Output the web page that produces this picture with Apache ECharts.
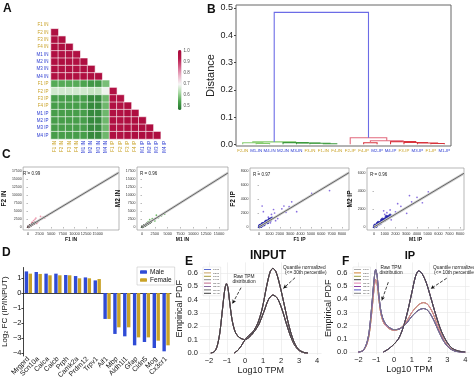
<!DOCTYPE html>
<html><head><meta charset="utf-8">
<script src="https://cdn.jsdelivr.net/npm/echarts@6/dist/echarts.min.js"></script>
<style>html,body{margin:0;padding:0;background:#fff}#c{width:474px;height:381px}</style>
</head><body><div id="c"></div>
<script>
// ---------- A: correlation heatmap ----------
const samples = ['F1 IN','F2 IN','F3 IN','F4 IN','M1 IN','M2 IN','M3 IN','M4 IN','F1 IP','F2 IP','F3 IP','F4 IP','M1 IP','M2 IP','M3 IP','M4 IP'];
const corrRows = [
  [],
  [0.98],
  [0.98,0.98],
  [0.98,0.98,0.98],
  [0.97,0.97,0.97,0.97],
  [0.97,0.98,0.97,0.97,0.98],
  [0.97,0.97,0.97,0.97,0.98,0.98],
  [0.97,0.97,0.97,0.97,0.97,0.98,0.98],
  [0.55,0.55,0.55,0.55,0.54,0.52,0.52,0.58],
  [0.66,0.66,0.66,0.66,0.66,0.65,0.65,0.69,0.96],
  [0.53,0.53,0.53,0.53,0.53,0.50,0.50,0.57,0.97,0.96],
  [0.53,0.53,0.53,0.53,0.53,0.50,0.50,0.57,0.97,0.96,0.98],
  [0.53,0.53,0.53,0.53,0.53,0.50,0.50,0.57,0.97,0.96,0.98,0.98],
  [0.53,0.53,0.53,0.53,0.53,0.50,0.50,0.57,0.97,0.96,0.98,0.98,0.98],
  [0.53,0.53,0.53,0.53,0.53,0.50,0.50,0.57,0.97,0.96,0.98,0.98,0.98,0.98],
  [0.53,0.53,0.53,0.53,0.53,0.50,0.50,0.57,0.97,0.96,0.98,0.98,0.98,0.98,0.98]
];
const colorbarTicks = [0.5,0.6,0.7,0.8,0.9,1.0];

// ---------- B: dendrogram ----------
const leafNames = ['F2-IN','M1-IN','M4-IN','M2-IN','M3-IN','F3-IN','F1-IN','F4-IN','F2-IP','F4-IP','M2-IP','M4-IP','F3-IP','M3-IP','F1-IP','M1-IP'];
const dendroLinks = [
  {id:'g1', a:2, b:3, h:0.003, grp:'lightgreen'},
  {id:'g2', a:1, b:'g1', h:0.006, grp:'lightgreen'},
  {id:'g3', a:7, b:8, h:0.002, grp:'green'},
  {id:'g4', a:6, b:'g3', h:0.004, grp:'green'},
  {id:'g5', a:5, b:'g4', h:0.005, grp:'green'},
  {id:'g6', a:4, b:'g5', h:0.0065, grp:'green'},
  {id:'g7', a:'g2', b:'g6', h:0.009, grp:'lightgreen'},
  {id:'r1', a:15, b:16, h:0.003, grp:'red'},
  {id:'r2', a:14, b:'r1', h:0.005, grp:'red'},
  {id:'r3', a:13, b:'r2', h:0.007, grp:'red'},
  {id:'r4', a:12, b:'r3', h:0.010, grp:'red'},
  {id:'r5', a:10, b:11, h:0.006, grp:'red'},
  {id:'r6', a:'r5', b:'r4', h:0.013, grp:'pink'},
  {id:'r7', a:9, b:'r6', h:0.0245, grp:'pink'},
  {id:'top', a:'g7', b:'r7', h:0.484, grp:'blue'}
];
const distTicks = [0,0.1,0.2,0.3,0.4,0.5];

// ---------- C: scatter plots ----------
const c1Core = [[60,50],[150,130],[250,210],[350,300],[450,400],[550,470],[700,600],[850,740],[1000,870],[1150,1000],[1350,1180],[1550,1350],[1750,1520],[400,460],[600,520],[300,240],[900,800],[1250,1100],[100,150],[200,120],[500,560],[750,650],[1100,1050],[1450,1250]];
const c1Pts = [[1200,2000],[1700,2800],[2100,1500],[2500,2300],[3000,2600],[1500,2400],[900,1500],[2300,1900],[4200,3500],[3300,3200],[3600,2800],[2700,3300],[5200,4500],[1900,1100],[800,1200]];
const c1Fit = [[0,0],[19500,16970]];
const c2Core = [[60,55],[150,140],[250,230],[350,320],[450,420],[550,500],[700,640],[850,780],[1000,930],[1150,1060],[1350,1250],[1550,1420],[1750,1600],[400,500],[650,560],[950,1000],[1250,1150],[100,160],[200,130],[500,560],[800,700],[1100,1100],[1450,1300]];
const c2Pts = [[2000,2600],[2500,1900],[3200,2900],[3800,3500],[1500,2300],[2800,3700],[6200,6250],[1800,1500],[4400,4000],[1200,1700]];
const c2Fit = [[0,0],[16760,16900]];
const c3Core = [[30,40],[80,100],[130,150],[180,200],[240,260],[300,320],[360,390],[420,450],[500,520],[580,600],[660,690],[750,760],[850,860],[950,980],[1050,1100],[1150,1180],[1250,1300],[100,250],[200,120],[350,500],[500,350],[700,850],[850,650],[60,180],[150,60],[280,420],[420,280],[620,740],[780,620],[980,1100],[1100,960]];
const c3Pts = [[420,2190],[3150,3600],[3630,2190],[5080,4800],[1500,2000],[1800,1200],[2200,2600],[2600,2100],[1200,1800],[900,1400],[1600,900],[2900,2900],[3400,3100],[2000,1800],[2400,3000],[1100,600],[6800,5200],[300,3000],[4200,3800],[1400,2500]];
const c3Fit = [[0,0],[8675,7760]];
const c4Core = [[30,30],[80,70],[130,120],[180,160],[240,210],[300,270],[360,320],[420,380],[500,440],[580,520],[660,590],[750,670],[850,760],[950,850],[1050,940],[1200,1070],[1350,1200],[1500,1340],[100,220],[250,130],[400,520],[600,420],[800,900],[1000,750],[60,150],[180,60],[320,420],[480,330],[700,780],[900,720],[1150,1200],[1300,1050]];
const c4Pts = [[5050,3920],[3040,1520],[1500,1900],[2000,1700],[2500,2300],[1800,1300],[1200,1600],[3500,2800],[2200,2600],[2800,2000],[4000,3300],[1000,1400],[3300,3500],[1600,800],[4500,2700],[900,1800]];
const c4Fit = [[0,0],[8370,5970]];
const inTicks = [0,2500,5000,7500,10000,12500,15000,17500];
const inXTicks = [0,2500,5000,7500,10000,12500,15000];
const ipXTicks = [0,1000,2000,3000,4000,5000,6000,7000,8000];
const ip3YTicks = [0,2000,4000,6000,8000];
const ip4YTicks = [0,2000,4000,6000];

// ---------- D: log2 FC bars ----------
const genes = ['Mrgprd','Scn10a','Calca','Calcb','Prph','Camk2a','Prdm12','Trpv1','Aif1','Mbp','Aldh1l1','Gfap','Cldn5','Mog','Cx3cr1'];
const maleFC = [1.44,1.40,1.29,1.29,1.20,1.13,1.04,0.84,-1.73,-2.73,-2.89,-3.49,-3.27,-3.67,-3.89];
const femaleFC = [1.29,1.27,1.18,1.18,1.18,0.98,0.98,0.93,-1.73,-2.29,-2.29,-2.96,-2.96,-3.18,-3.49];
const fcTicks = [-4,-3,-2,-1,0,1];

// ---------- E / F: density curves ----------
const inSamples = ['F1 IN','F2 IN','F3 IN','F4 IN','M1 IN','M2 IN','M3 IN','M4 IN'];
const ipSamples = ['F1 IP','F2 IP','F3 IP','F4 IP','M1 IP','M2 IP','M3 IP','M4 IP'];
const eRaw = [[-1.9,0],[-1.7,0.01],[-1.55,0.05],[-1.4,0.15],[-1.25,0.33],[-1.12,0.48],[-1.03,0.52],[-0.95,0.49],[-0.85,0.38],[-0.72,0.25],[-0.55,0.16],[-0.35,0.12],[-0.15,0.105],[0,0.1],[0.2,0.115],[0.45,0.15],[0.75,0.21],[1.05,0.31],[1.3,0.4],[1.55,0.435],[1.8,0.41],[2.05,0.33],[2.3,0.22],[2.55,0.12],[2.8,0.05],[3.05,0.015],[3.35,0]];
const eNorm = [[-0.6,0],[-0.4,0.02],[-0.2,0.055],[0,0.1],[0.2,0.13],[0.45,0.16],[0.7,0.22],[0.95,0.33],[1.2,0.5],[1.4,0.61],[1.55,0.635],[1.72,0.61],[1.95,0.5],[2.2,0.35],[2.45,0.2],[2.7,0.09],[2.95,0.03],[3.25,0.005],[3.5,0]];
const fRawA = [[-2.0,0],[-1.75,0.01],[-1.55,0.06],[-1.4,0.15],[-1.25,0.35],[-1.12,0.55],[-1.03,0.625],[-0.95,0.58],[-0.85,0.43],[-0.72,0.3],[-0.55,0.23],[-0.3,0.19],[0,0.17],[0.3,0.175],[0.65,0.21],[1.0,0.27],[1.35,0.315],[1.65,0.33],[1.9,0.315],[2.2,0.25],[2.5,0.16],[2.8,0.08],[3.1,0.03],[3.45,0.006],[3.9,0]];
const fRawB = [[-2.0,0],[-1.75,0.01],[-1.55,0.05],[-1.4,0.13],[-1.25,0.3],[-1.12,0.48],[-1.03,0.55],[-0.95,0.52],[-0.85,0.4],[-0.72,0.28],[-0.55,0.215],[-0.3,0.18],[0,0.165],[0.3,0.175],[0.65,0.22],[1.0,0.3],[1.35,0.355],[1.65,0.375],[1.9,0.36],[2.2,0.29],[2.5,0.18],[2.8,0.09],[3.1,0.035],[3.45,0.008],[3.9,0]];
const fNorm = [[-0.6,0],[-0.4,0.015],[-0.2,0.035],[0,0.06],[0.25,0.1],[0.5,0.18],[0.75,0.3],[1.0,0.45],[1.2,0.57],[1.38,0.615],[1.55,0.6],[1.8,0.53],[2.05,0.42],[2.35,0.28],[2.65,0.16],[2.95,0.08],[3.25,0.03],[3.6,0.008],[4.0,0]];
const fRawChoice = ['B','B','B','A','B','A','A','A'];
const pdfXTicks = [-2,-1,0,1,2,3,4];
const pdfYTicks = [0,0.1,0.2,0.3,0.4,0.5,0.6];

// ---------- build ----------
const FONT = 'Liberation Sans, Arial, sans-serif';
const GOLD = '#c9a227', BLUE = '#2b3bd1';
const richFM = (fs) => ({f:{color:GOLD,fontSize:fs,fontFamily:FONT}, m:{color:BLUE,fontSize:fs,fontFamily:FONT}});
const fmFM = v => (v[0]==='F'?'{f|':'{m|') + v + '}';

const heatData = [];
corrRows.forEach((row,i)=>row.forEach((v,j)=>heatData.push([j,i,v])));

const nodes = {};
const nodePos = k => typeof k === 'number' ? {x:k,h:0} : nodes[k];
const grpColor = {lightgreen:'#84cc6c', green:'#3d9a3d', red:'#d8343c', pink:'#e26a7e', blue:'#6c6ce6'};
const linkByGrp = {};
dendroLinks.forEach(l=>{
  const A = nodePos(l.a), B = nodePos(l.b);
  nodes[l.id] = {x:(A.x+B.x)/2, h:l.h};
  (linkByGrp[l.grp] = linkByGrp[l.grp] || []).push({coords:[[A.x,A.h],[A.x,l.h],[B.x,l.h],[B.x,B.h]]});
});

const series = [];
series.push({type:'heatmap', xAxisIndex:0, yAxisIndex:0, data:heatData,
  itemStyle:{borderColor:'#fff', borderWidth:0.6}});
Object.keys(linkByGrp).forEach(g=>{
  series.push({type:'lines', coordinateSystem:'cartesian2d', xAxisIndex:2, yAxisIndex:2, polyline:true,
    data:linkByGrp[g], lineStyle:{color:grpColor[g], width:1.1, opacity:1}, silent:true});
});

const scatterSets = [
  {core:c1Core, pts:c1Pts, fit:c1Fit, col:'#e8809a', coreCol:'#3a1016', cs:2.4},
  {core:c2Core, pts:c2Pts, fit:c2Fit, col:'#4caa44', coreCol:'#10300f', cs:2.4},
  {core:c3Core, pts:c3Pts, fit:c3Fit, col:'#6a4ad8', coreCol:'#1c1ca8', cs:3},
  {core:c4Core, pts:c4Pts, fit:c4Fit, col:'#6a4ad8', coreCol:'#1c1ca8', cs:3}
];
scatterSets.forEach((s,k)=>{
  const ax = 3+k;
  series.push({type:'line', xAxisIndex:ax, yAxisIndex:ax, data:s.fit, showSymbol:false, silent:true,
    lineStyle:{color:'#cfcfcf', width:2.6}});
  series.push({type:'scatter', xAxisIndex:ax, yAxisIndex:ax, data:s.pts, symbolSize:1.7, itemStyle:{color:s.col}, silent:true});
  series.push({type:'scatter', xAxisIndex:ax, yAxisIndex:ax, data:s.core, symbolSize:s.cs, itemStyle:{color:s.coreCol}, silent:true});
  series.push({type:'line', xAxisIndex:ax, yAxisIndex:ax, data:s.fit, showSymbol:false, silent:true,
    lineStyle:{color:'#4a4a4a', width:0.8}});
});

series.push({name:'Male', type:'bar', xAxisIndex:7, yAxisIndex:7, data:maleFC, barWidth:3.4, barGap:'15%', itemStyle:{color:'#2f4bd6'}});
series.push({name:'Female', type:'bar', xAxisIndex:7, yAxisIndex:7, data:femaleFC, barWidth:3.4, barGap:'15%', itemStyle:{color:'#c9a227'}});

const eColors = ['#5a6acf','#c8a060','#a89a3a','#8a8a8a','#c06a8a','#8a6aa0','#6a6a6a','#3a3a3a'];
const fColors = ['#aaaaaa','#d08030','#a0a040','#404040','#e080b0','#9040a0','#5050c0','#808080'];
const arrowLine = (pairs) => ({silent:true, symbol:['none','arrow'], symbolSize:[3,4],
  lineStyle:{type:'dashed', color:'#111', width:0.8}, label:{show:false},
  data:pairs.map(p=>[{coord:p[0]},{coord:p[1]}])});

inSamples.forEach((n,i)=>{
  series.push({name:n, type:'line', xAxisIndex:8, yAxisIndex:8, data:eRaw, showSymbol:false, smooth:0.3,
    lineStyle:{width:0.9, color:eColors[i]}, itemStyle:{color:eColors[i]}, silent:true});
});
inSamples.forEach((n,i)=>{
  const s = {name:n, type:'line', xAxisIndex:8, yAxisIndex:8, data:eNorm, showSymbol:false, smooth:0.3,
    lineStyle:{width:0.9, color:eColors[i]}, itemStyle:{color:eColors[i]}, silent:true};
  if (i===0) s.markLine = arrowLine([[[-0.22,0.49],[-0.7,0.37]],[[2.78,0.565],[2.13,0.485]]]);
  series.push(s);
});
ipSamples.forEach((n,i)=>{
  series.push({name:n, type:'line', xAxisIndex:9, yAxisIndex:9, data:fRawChoice[i]==='A'?fRawA:fRawB, showSymbol:false, smooth:0.3,
    lineStyle:{width:0.9, color:fColors[i]}, itemStyle:{color:fColors[i]}, silent:true});
});
ipSamples.forEach((n,i)=>{
  const s = {name:n, type:'line', xAxisIndex:9, yAxisIndex:9, data:fNorm, showSymbol:false, smooth:0.3,
    lineStyle:{width:0.9, color:i===3?'#404040':fColors[i]}, itemStyle:{color:fColors[i]}, silent:true, z: i===3?5:2};
  if (i===0) s.markLine = arrowLine([[[-0.32,0.53],[-0.69,0.39]],[[2.96,0.56],[2.06,0.48]]]);
  series.push(s);
});

const hide = {show:false};
const plainFmt = v => String(v);
const scX = (g,min,max,ticks,name) => ({gridIndex:g, type:'value', min, max, axisLine:hide, splitLine:hide,
  axisTick:{customValues:ticks, length:1.5, lineStyle:{color:'#777', width:0.5}},
  axisLabel:{customValues:ticks, fontSize:3.8, margin:2, color:'#333', formatter:plainFmt},
  name, nameLocation:'middle', nameGap:6.5, nameTextStyle:{fontSize:5, fontWeight:'bold', color:'#111'}});
const scY = (g,min,max,ticks,name,gap) => ({gridIndex:g, type:'value', min, max, axisLine:hide, splitLine:hide,
  axisTick:{customValues:ticks, length:1.5, lineStyle:{color:'#777', width:0.5}},
  axisLabel:{customValues:ticks, fontSize:3.5, margin:1.5, color:'#333', formatter:plainFmt},
  name, nameLocation:'middle', nameGap:gap, nameRotate:90, nameTextStyle:{fontSize:6.5, fontWeight:'bold', color:'#111'}});
const minusFmt = v => v<0 ? '\u2212'+(-v) : String(v);
const pdfX = g => ({gridIndex:g, type:'value', min:-2.5, max:4.25, axisLine:hide,
  axisTick:{customValues:pdfXTicks, show:false},
  axisLabel:{customValues:pdfXTicks, fontSize:7.5, margin:2, color:'#222', formatter:minusFmt},
  splitLine:{show:true, lineStyle:{color:'#e6e6e6', width:0.6}},
  name:'Log10 TPM', nameLocation:'middle', nameGap:7, nameTextStyle:{fontSize:9, color:'#222'}});
const pdfY = g => ({gridIndex:g, type:'value', min:-0.015, max:0.68, axisLine:hide,
  axisTick:{customValues:pdfYTicks, show:false},
  axisLabel:{customValues:pdfYTicks, fontSize:7.5, margin:2, color:'#222', formatter:v=>v.toFixed(1)},
  splitLine:{show:true, lineStyle:{color:'#e6e6e6', width:0.6}},
  name:'Empirical PDF', nameLocation:'middle', nameGap:10, nameRotate:90, nameTextStyle:{fontSize:9, color:'#222'}});

const scBox = {show:true, borderColor:'#999', borderWidth:0.7, backgroundColor:'#fff'};
const option = {
  animation:false,
  textStyle:{fontFamily:FONT},
  grid:[
    {left:51, top:21.5, width:117, height:117.5},
    {left:178, top:50, width:3.5, height:60},
    {left:236, top:5, width:215, height:141, show:true, borderColor:'#666', borderWidth:1},
    Object.assign({left:20, top:167, width:99, height:63}, scBox),
    Object.assign({left:137, top:167, width:91, height:63}, scBox),
    Object.assign({left:250, top:168, width:99, height:62}, scBox),
    Object.assign({left:367, top:168, width:97, height:62}, scBox),
    {left:21, top:267.5, width:150, height:89.7},
    {left:200, top:262.4, width:121.5, height:92.6},
    {left:349.5, top:262.4, width:120.2, height:91.6}
  ],
  xAxis:[
    {gridIndex:0, type:'category', data:samples, axisLine:hide, axisTick:hide, splitLine:hide,
      axisLabel:{interval:0, rotate:90, margin:2, formatter:fmFM, rich:richFM(4.5)}},
    {gridIndex:1, type:'value', show:false},
    {gridIndex:2, type:'value', min:0.5, max:16.5, axisLine:hide, axisTick:hide, splitLine:hide,
      axisLabel:{customValues:leafNames.map((_,i)=>i+1), margin:2.5, formatter:v=>fmFM(leafNames[v-1]), rich:richFM(4.4)}},
    scX(3,-1040,19580,inXTicks,'F1 IN'),
    scX(4,-975,16760,inXTicks,'M1 IN'),
    scX(5,-870,8675,ipXTicks,'F1 IP'),
    scX(6,-650,8370,ipXTicks,'M1 IP'),
    {gridIndex:7, type:'category', data:genes, position:'bottom', axisLine:{show:false, onZero:false}, axisTick:hide,
      axisLabel:{interval:0, rotate:45, fontSize:7, margin:2, color:'#111'}},
    pdfX(8),
    pdfX(9),
    {gridIndex:7, type:'category', data:genes, position:'top', axisLine:{show:true, onZero:true, lineStyle:{color:'#111', width:0.8}},
      axisTick:hide, axisLabel:hide}
  ],
  yAxis:[
    {gridIndex:0, type:'category', data:samples, inverse:true, axisLine:hide, axisTick:hide, splitLine:hide,
      axisLabel:{interval:0, margin:2.5, formatter:fmFM, rich:richFM(4.5)}},
    {gridIndex:1, type:'value', min:0.465, max:1.01, position:'right', axisLine:hide, axisTick:hide, splitLine:hide,
      axisLabel:{customValues:colorbarTicks, formatter:v=>v.toFixed(1), fontSize:4.5, color:'#555', margin:2}},
    {gridIndex:2, type:'value', min:-0.006, max:0.511, axisLine:hide, splitLine:hide,
      axisTick:{customValues:distTicks, length:2, lineStyle:{color:'#444'}},
      axisLabel:{customValues:distTicks, formatter:v=>v.toFixed(1), fontSize:9, color:'#222', margin:3},
      name:'Distance', nameLocation:'middle', nameRotate:90, nameGap:14, nameTextStyle:{fontSize:11, color:'#222'}},
    scY(3,-940,18750,inTicks,'F2 IN',9),
    scY(4,-940,18750,inTicks,'M2 IN',11),
    scY(5,-430,8430,ip3YTicks,'F2 IP',9),
    scY(6,-330,6560,ip4YTicks,'M2 IP',10),
    {gridIndex:7, type:'value', min:-4.2, max:1.7, axisLine:{show:true, onZero:false, lineStyle:{color:'#111', width:0.8}}, splitLine:hide,
      axisTick:{show:true, customValues:fcTicks, length:2, lineStyle:{color:'#111', width:0.8}},
      axisLabel:{customValues:fcTicks, fontSize:7.5, margin:2, color:'#111', formatter:minusFmt},
      name:'Log\u2082 FC (IP/INPUT)', nameLocation:'middle', nameRotate:90, nameGap:8, nameTextStyle:{fontSize:8, color:'#111'}},
    pdfY(8),
    pdfY(9)
  ],
  visualMap:[{type:'continuous', seriesIndex:0, min:0.465, max:1.01, calculable:false, orient:'vertical',
    left:178, top:50, itemWidth:3.5, itemHeight:60, padding:0, text:null, showLabel:false,
    inRange:{color:['#23742f','#4ea54f','#a9d9a3','#f6f6f6','#eab5c8','#d6648c','#b8184a','#a8083a']}}],
  legend:[
    {data:['Male','Female'], orient:'vertical', left:137, top:267, padding:[1.5,3], itemGap:1, itemWidth:7, itemHeight:3.5,
      borderColor:'#bbb', borderWidth:0.5, textStyle:{fontSize:6.5, color:'#111', padding:[0,0,0,-2]}, selectedMode:false},
    {data:inSamples, orient:'vertical', left:203, top:267, padding:1, itemGap:0.4, itemWidth:7, itemHeight:1, icon:'rect',
      borderColor:'#ddd', borderWidth:0.5, backgroundColor:'#fff', textStyle:{fontSize:2.5, lineHeight:2.6, color:'#333', padding:[0,0,0,-3]}, selectedMode:false},
    {data:ipSamples, orient:'vertical', left:353, top:267, padding:1, itemGap:0.4, itemWidth:7, itemHeight:1, icon:'rect',
      borderColor:'#ddd', borderWidth:0.5, backgroundColor:'#fff', textStyle:{fontSize:2.5, lineHeight:2.6, color:'#333', padding:[0,0,0,-3]}, selectedMode:false}
  ],
  graphic:[
    ...[['A',3,3],['B',207,4],['C',2,149],['D',2,247],['E',185,256],['F',342,256]].map(p=>({type:'text', x:p[1], y:p[2],
      style:{text:p[0], fontSize:12, fontWeight:'bold', fill:'#111', fontFamily:FONT}})),
    ...[['R = 0.99',23,174],['R = 0.96',140,174],['R = 0.97',253,175],['R = 0.96',370,175]].map(p=>({type:'text', x:p[1], y:p[2],
      style:{text:p[0], fontSize:4.5, fill:'#222', textVerticalAlign:'middle', fontFamily:FONT}})),
    {type:'text', x:268, y:256, style:{text:'INPUT', fontSize:12, fontWeight:'bold', fill:'#111', textAlign:'center', textVerticalAlign:'middle', fontFamily:FONT}},
    {type:'text', x:410, y:256, style:{text:'IP', fontSize:11, fontWeight:'bold', fill:'#111', textAlign:'center', textVerticalAlign:'middle', fontFamily:FONT}},
    ...[['Raw TPM',244,276.5,'center'],['distribution',244,281.5,'center'],['Quantile normalized',283,268,'left'],['(<= 30th percentile)',285,273,'left'],
        ['Raw TPM',391,268,'center'],['distribution',391,273,'center'],['Quantile normalized',433,268,'left'],['(<= 10th percentile)',434,273,'left']]
      .map(p=>({type:'text', x:p[1], y:p[2], z:100, style:{text:p[0], fontSize:4.8, fill:'#222', textAlign:p[3], textVerticalAlign:'middle', fontFamily:FONT}}))
  ],
  series
};
const chart = echarts.init(document.getElementById('c'), null, {renderer:'canvas'});
chart.setOption(option);
</script>
</body></html>
